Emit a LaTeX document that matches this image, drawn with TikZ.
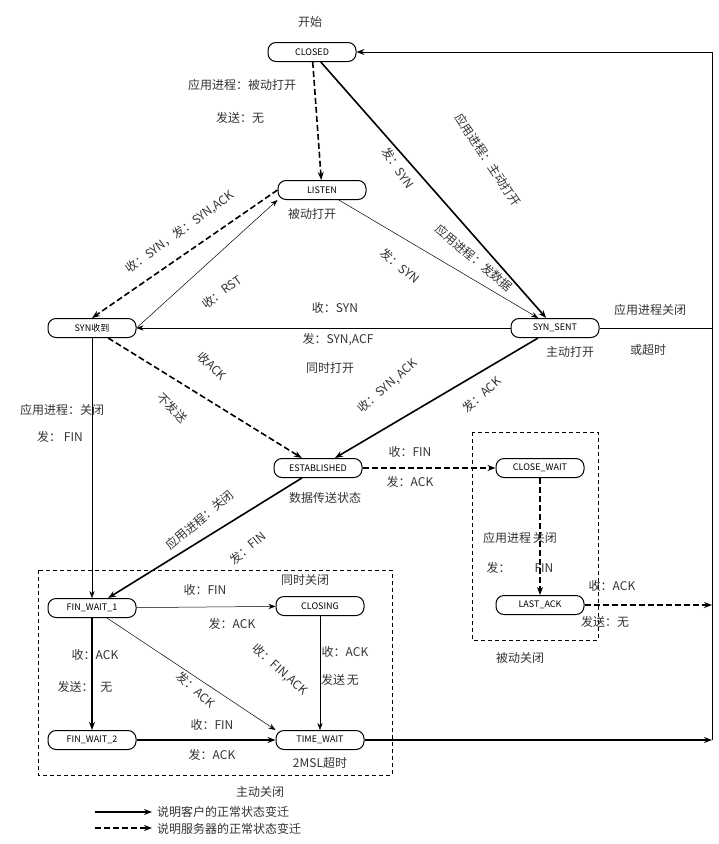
\documentclass[tikz,border=0pt]{standalone}
\usepackage{fontspec}
\setmainfont{Liberation Sans}
\newfontfamily\cjk{Noto Sans CJK SC}
\usetikzlibrary{arrows.meta}
\begin{document}
\begin{tikzpicture}[x=1pt,y=-1pt,
 st/.style={draw,rounded corners=8pt,line width=1pt,minimum width=88pt,minimum height=19pt,inner sep=1pt,font=\cjk\fontsize{9}{10}\selectfont},
 lb/.style={font=\cjk\fontsize{12}{13}\selectfont,text=black!80,inner sep=1pt},
 cl/.style={line width=1.6pt,-{Stealth[length=8pt]}},
 sv/.style={line width=1.6pt,dash pattern=on 6pt off 3pt,-{Stealth[length=8pt]}},
 th/.style={line width=0.5pt,-{Stealth[length=7pt]}},
 box/.style={dash pattern=on 4pt off 3pt,line width=0.6pt}]
\useasboundingbox (0,0) rectangle (719,844);
\node[st] (closed) at (312,52) {CLOSED};
\node[st] (listen) at (322,190) {LISTEN};
\node[st] (synr) at (92,328) {SYN收到};
\node[st] (syns) at (555,328) {SYN\_SENT};
\node[st] (est) at (318,468) {ESTABLISHED};
\node[st] (cw) at (540,468) {CLOSE\_WAIT};
\node[st] (la) at (540,605) {LAST\_ACK};
\node[st] (fw1) at (92,608) {FIN\_WAIT\_1};
\node[st] (clg) at (320,606) {CLOSING};
\node[st] (fw2) at (92,740) {FIN\_WAIT\_2};
\node[st] (tw) at (320,740) {TIME\_WAIT};
\coordinate (rt) at (712,740);
\coordinate (rc) at (712,52);
\coordinate (r1) at (712,328);
\coordinate (r2) at (712,605);
\draw[box] (472,432) rectangle (598,640);
\draw[box] (38,570) rectangle (392,775);
\node[lb] at (310,22) {开始};
\draw[sv] (closed) -- (listen);
\node[lb] at (242,85) {应用进程：被动打开};
\node[lb] at (240,118) {发送：无};
\draw[cl] (closed) -- (syns);
\node[lb,rotate=-56] at (488,160) {应用进程：主动打开};
\node[lb,rotate=-56] at (398,168) {发：SYN};
\draw[th] (listen) -- (syns);
\node[lb,rotate=-40] at (474,258) {应用进程：发数据};
\node[lb,rotate=-40] at (400,266) {发：SYN};
\draw[sv] (listen.west) -- (synr.north);
\node[lb,rotate=36] at (180,232) {收：SYN，发：SYN,ACK};
\draw[th] (synr.east) -- (listen.south west);
\node[lb,rotate=36] at (222,292) {收：RST};
\node[lb] at (312,214) {被动打开};
\draw[th] (syns) -- (synr);
\node[lb] at (335,308) {收：SYN};
\node[lb] at (338,340) {发：SYN,ACF};
\node[lb] at (330,368) {同时打开};
\draw[cl] (syns) -- (est);
\node[lb,rotate=42] at (388,386) {收：SYN, ACK};
\node[lb,rotate=42] at (482,395) {发：ACK};
\node[lb] at (570,352) {主动打开};
\draw[line width=1pt] (syns) -- (r1);
\node[lb] at (650,310) {应用进程关闭};
\node[lb] at (648,350) {或超时};
\draw[sv] (synr) -- (est);
\node[lb,rotate=-45] at (212,366) {收ACK};
\node[lb,rotate=-45] at (172,408) {不发送};
\draw[th] (synr) -- (fw1);
\node[lb] at (62,410) {应用进程：关闭};
\node[lb] at (60,437) {发：  FIN};
\draw[sv] (est) -- (cw);
\node[lb] at (410,452) {收：FIN};
\node[lb] at (410,482) {发：ACK};
\node[lb] at (325,498) {数据传送状态};
\draw[cl] (est) -- (fw1);
\node[lb,rotate=40] at (200,520) {应用进程：关闭};
\node[lb,rotate=40] at (248,548) {发：FIN};
\draw[sv] (cw) -- (la);
\node[lb] at (520,538) {应用进程\,关闭};
\node[lb] at (520,568) {发：\qquad FIN};
\draw[sv] (la) -- (r2);
\node[lb] at (612,586) {收：ACK};
\node[lb] at (605,622) {发送：无};
\node[lb] at (520,658) {被动关闭};
\draw[th] (fw1) -- (clg);
\node[lb] at (205,590) {收：FIN};
\node[lb] at (232,624) {发：ACK};
\node[lb] at (305,580) {同时关闭};
\draw[th] (fw1) -- (tw.north west);
\node[lb,rotate=-42] at (280,670) {收：FIN,ACK};
\node[lb,rotate=-42] at (196,690) {发：ACK};
\draw[cl] (fw1) -- (fw2);
\node[lb] at (95,655) {收：ACK};
\node[lb] at (85,687) {发送：\,\, 无};
\draw[th] (clg) -- (tw);
\node[lb] at (345,652) {收：ACK};
\node[lb] at (340,680) {发送\,无};
\draw[cl] (fw2) -- (tw);
\node[lb] at (212,725) {收：FIN};
\node[lb] at (212,755) {发：ACK};
\node[lb] at (320,763) {2MSL超时};
\node[lb] at (260,792) {主动关闭};
\draw[line width=1.2pt,-{Stealth[length=8pt]}] (tw) -- (rt);
\draw[line width=1pt,-{Stealth[length=8pt]}] (rt) -- (rc) -- (closed);
\coordinate (a1) at (95,812); \coordinate (a2) at (152,812);
\coordinate (b1) at (95,828); \coordinate (b2) at (152,828);
\draw[cl] (a1) -- (a2);
\draw[sv] (b1) -- (b2);
\node[lb,anchor=west] at (156,812) {说明客户的正常状态变迁};
\node[lb,anchor=west] at (156,829) {说明服务器的正常状态变迁};
\end{tikzpicture}
\end{document}
